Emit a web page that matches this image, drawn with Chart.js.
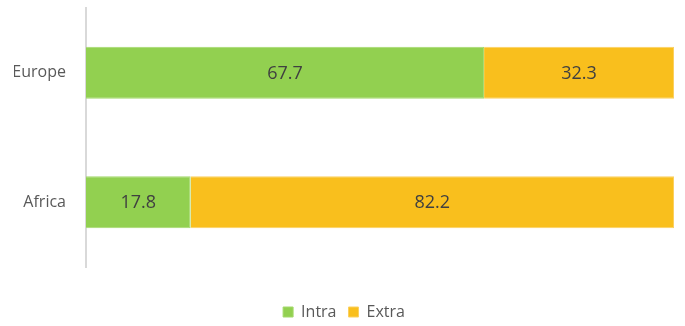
<!DOCTYPE html>
<html>
<head>
<meta charset="utf-8">
<script src="https://cdn.jsdelivr.net/npm/chart.js@4/dist/chart.umd.min.js"></script>
<style>
  html, body { margin: 0; padding: 0; background: #fff; }
  #wrap { width: 685px; height: 326px; }
</style>
</head>
<body>
<div id="wrap"><canvas id="c" width="685" height="326"></canvas></div>
<script>
// data
const regions = ['Europe', 'Africa'];
const intra = [67.7, 17.8];
const extra = [32.3, 82.2];

const GREEN = '#92d050';
const AMBER = '#f9bf1d';
const INK = '#595959';
const FONT = "'Open Sans', sans-serif";

// value labels in the middle of each segment
const segLabels = {
  id: 'segLabels',
  afterDatasetsDraw(chart) {
    const ctx = chart.ctx;
    ctx.save();
    ctx.font = "18px " + FONT;
    ctx.fillStyle = '#404040';
    ctx.textAlign = 'center';
    ctx.textBaseline = 'middle';
    chart.data.datasets.forEach((ds, i) => {
      chart.getDatasetMeta(i).data.forEach((bar, j) => {
        const p = bar.getProps(['x', 'y', 'base'], true);
        ctx.fillText(ds.data[j].toFixed(1), (p.x + p.base) / 2, p.y + 1);
      });
    });
    ctx.restore();
  }
};

new Chart(document.getElementById('c'), {
  type: 'bar',
  data: {
    labels: regions,
    datasets: [
      {label: 'Intra', data: intra, backgroundColor: GREEN, borderColor: '#a4d96c', borderWidth: 1},
      {label: 'Extra', data: extra, backgroundColor: AMBER, borderColor: '#fbd060', borderWidth: 1}
    ]
  },
  options: {
    indexAxis: 'y',
    responsive: false,
    animation: false,
    layout: {padding: {top: 8, right: 11, left: 14, bottom: -4}},
    plugins: {
      legend: {
        position: 'bottom',
        labels: {
          boxWidth: 10, boxHeight: 10, padding: 12,
          color: INK,
          font: {family: FONT, size: 16}
        }
      },
      tooltip: {enabled: false}
    },
    scales: {
      x: {
        stacked: true, min: 0, max: 100,
        grid: {display: false},
        border: {display: false},
        ticks: {display: false},
        afterFit: s => { s.height = 25; }
      },
      y: {
        stacked: true,
        grid: {display: false},
        border: {display: true, color: '#d9d9d9', width: 2},
        ticks: {color: INK, padding: 12, font: {family: FONT, size: 16}},
        afterFit: s => { s.width = 72; s.paddingTop = 0; s.paddingBottom = 0; }
      }
    },
    datasets: {bar: {categoryPercentage: 1, barPercentage: 0.4}}
  },
  plugins: [segLabels]
});
</script>
</body>
</html>
